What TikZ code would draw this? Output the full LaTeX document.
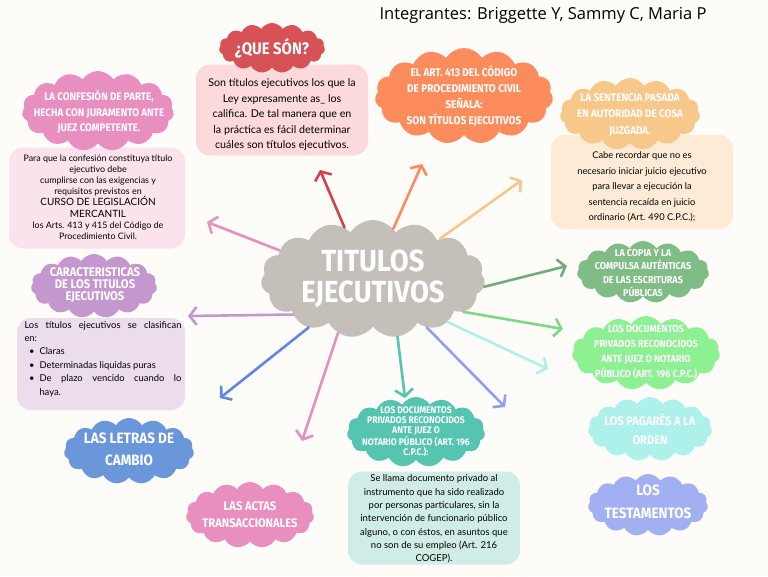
\documentclass[tikz,border=0pt]{standalone}
\usepackage{fontspec}
\setmainfont{Lato}
\newfontfamily\headfont[FakeStretch=0.9]{Fira Sans}
\newfontfamily\topfont{Open Sans}
\usetikzlibrary{shapes.symbols,arrows.meta}

\definecolor{bgc}{HTML}{FDFCF9}
\definecolor{grisc}{HTML}{C5BFBA}
\definecolor{rojoc}{HTML}{D65257}
\definecolor{rojoa}{HTML}{D0434A}
\definecolor{naranjac}{HTML}{FC8C5C}
\definecolor{durazc}{HTML}{F8C88A}
\definecolor{rosac}{HTML}{E88FC0}
\definecolor{moradoc}{HTML}{C498CF}
\definecolor{azulc}{HTML}{6A96DA}
\definecolor{tealc}{HTML}{55C4B1}
\definecolor{verdec}{HTML}{80BD86}
\definecolor{verdelc}{HTML}{8DF093}
\definecolor{cianc}{HTML}{ADF1EA}
\definecolor{peric}{HTML}{A2B0F1}
\definecolor{rosab}{HTML}{FCDADC}
\definecolor{durazb}{HTML}{FDEBD6}
\definecolor{rosalb}{HTML}{FBE3EE}
\definecolor{moradob}{HTML}{EBDDEC}
\definecolor{tealb}{HTML}{CFEDE6}

\newcommand{\fs}[2]{\fontsize{#1}{#2}\selectfont}

\begin{document}
\begin{tikzpicture}[x=1pt,y=-1pt,
  cloudy/.style={cloud, cloud puffs=15, cloud puff arc=115, cloud ignores aspect, inner sep=0pt},
  head/.style={text=white, align=center, font=\headfont\bfseries},
  textbox/.style={rounded corners=14pt, align=center, inner sep=0pt},
  arr/.style={line width=2.6pt, line cap=round, -{Straight Barb[length=7pt,width=18pt]}}]

\fill[bgc] (0,0) rectangle (768,576);
\useasboundingbox (0,0) rectangle (768,576);

\node[anchor=west, font=\topfont\fs{16.5}{18}] (integ) at (376,15) {Integrantes: Briggette Y, Sammy C, Maria P};

% cajas de texto
\node[textbox, fill=rosab, minimum width=172pt, minimum height=91pt] (queb) at (282,110) {};
\node[align=center, font=\fs{10.7}{15.5}] (quet) at (282,115) {Son títulos ejecutivos los que la\\Ley expresamente as\_ los\\califica. De tal manera que en\\la práctica es fácil determinar\\cuáles son títulos ejecutivos.};

\node[textbox, fill=durazb, minimum width=182pt, minimum height=94pt] (sentb) at (642,182) {};
\node[align=center, font=\fs{9.3}{15.5}] (sentt) at (642,187) {Cabe recordar que no es\\necesario iniciar juicio ejecutivo\\para llevar a ejecución la\\sentencia recaída en juicio\\ordinario (Art. 490 C.P.C.);};

\node[textbox, fill=rosalb, minimum width=176pt, minimum height=101pt] (confb) at (97,198) {};
\node[align=center, font=\fs{8.9}{11.2}] (conft) at (98,197) {Para que la confesión constituya título\\ejecutivo debe\\cumplirse con las exigencias y\\requisitos previstos en\\{\fs{10}{12}CURSO DE LEGISLACIÓN}\\{\fs{10}{12}MERCANTIL}\\los Arts. 413 y 415 del Código de\\Procedimiento Civil.};

\node[textbox, fill=moradob, minimum width=168pt, minimum height=92pt] (carb) at (101,364) {};
\node[text width=157pt, align=justify, inner sep=0pt, font=\fs{9.4}{13.4}] (cart) at (103,359) {Los títulos ejecutivos se clasifican\linebreak en:
\begin{list}{\textbullet}{\setlength{\leftmargin}{15pt}\setlength{\labelsep}{5pt}\setlength{\itemsep}{0pt}\setlength{\parsep}{0pt}\setlength{\topsep}{0pt}}
\item Claras
\item Determinadas liquidas puras
\item De plazo vencido cuando lo\linebreak haya.
\end{list}};

\node[textbox, fill=tealb, minimum width=172pt, minimum height=93pt] (docb) at (434,518) {};
\node[align=center, font=\fs{9.5}{13.3}] (doct) at (434,519) {Se llama documento privado al\\instrumento que ha sido realizado\\por personas particulares, sin la\\intervención de funcionario público\\alguno, o con éstos, en asuntos que\\no son de su empleo (Art. 216\\COGEP).};

% nube central y flechas
\node[cloudy, fill=grisc, minimum width=224pt, minimum height=118pt] (ctr) at (373,279) {};
\node[head, font=\headfont\bfseries\fs{30.5}{31}] (ctrt) at (373,279) {TITULOS\\EJECUTIVOS};

\coordinate (t1) at (320,170);
\coordinate (t2) at (422,164);
\coordinate (t3) at (522,180);
\coordinate (t4) at (567,266);
\coordinate (t5) at (563,329);
\coordinate (t6) at (548,369);
\coordinate (t7) at (505,407);
\coordinate (t8) at (405,398);
\coordinate (t9) at (302,441);
\coordinate (t10) at (220,398);
\coordinate (t11) at (188,316);
\coordinate (t12) at (207,222);

\draw[arr, rojoa] (ctr.119) -- (t1);
\draw[arr, naranjac] (ctr.68) -- (t2);
\draw[arr, durazc] (ctr.31) -- (t3);
\draw[arr, verdec!90!black] (ctr.356) -- (t4);
\draw[arr, verdelc!90!black] (ctr.340) -- (t5);
\draw[arr, cianc] (ctr.330) -- (t6);
\draw[arr, peric!90!blue] (ctr.318) -- (t7);
\draw[arr, tealc] (ctr.293) -- (t8);
\draw[arr, rosac] (ctr.237) -- (t9);
\draw[arr, azulc!90!blue] (ctr.217) -- (t10);
\draw[arr, moradoc] (ctr.204) -- (t11);
\draw[arr, rosac] (ctr.163) -- (t12);

% nubes
\node[cloudy, fill=rojoc, minimum width=106pt, minimum height=50pt] (que) at (272,48) {};
\node[head, font=\headfont\bfseries\fs{16.6}{19}] (quen) at (272,48) {¿QUE SÓN?};

\node[cloudy, fill=naranjac, minimum width=178pt, minimum height=96pt] (art) at (464,96) {};
\node[head, font=\headfont\bfseries\fs{11.2}{15.8}] (artn) at (464,96) {EL ART. 413 DEL CÓDIGO\\DE PROCEDIMIENTO CIVIL\\SEÑALA:\\SON TÍTULOS EJECUTIVOS};

\node[cloudy, fill=durazc, minimum width=140pt, minimum height=72pt] (sent) at (630,114) {};
\node[head, font=\headfont\bfseries\fs{11}{16.5}] (sentn) at (630,115) {LA SENTENCIA PASADA\\EN AUTORIDAD DE COSA\\JUZGADA.};

\node[cloudy, fill=rosac, minimum width=152pt, minimum height=80pt] (conf) at (98,111) {};
\node[head, font=\headfont\bfseries\fs{10.9}{15.5}] (confn) at (99,112) {LA CONFESIÓN DE PARTE,\\HECHA CON JURAMENTO ANTE\\JUEZ COMPETENTE.};

\node[cloudy, fill=moradoc, minimum width=126pt, minimum height=64pt] (car) at (94,286) {};
\node[head, font=\headfont\bfseries\fs{12.5}{12}] (carn) at (95,285) {CARACTERISTICAS\\DE LOS TITULOS\\EJECUTIVOS};

\node[cloudy, fill=azulc, minimum width=130pt, minimum height=66pt] (letr) at (129,451) {};
\node[head, font=\headfont\bfseries\fs{15}{22}] (letrn) at (129,449) {LAS LETRAS DE\\CAMBIO};

\node[cloudy, fill=rosac, minimum width=128pt, minimum height=66pt] (actas) at (250,515) {};
\node[head, font=\headfont\bfseries\fs{12.4}{17}] (actasn) at (250,515) {LAS ACTAS\\TRANSACCIONALES};

\node[cloudy, fill=tealc, minimum width=138pt, minimum height=70pt] (doc) at (416,432) {};
\node[head, font=\headfont\bfseries\fs{9.6}{10}] (docn) at (416,432) {LOS DOCUMENTOS\\PRIVADOS RECONOCIDOS\\ANTE JUEZ O\\NOTARIO PÚBLICO (ART. 196\\C.P.C.):};

\node[cloudy, fill=verdec, minimum width=132pt, minimum height=62pt] (copia) at (643,272) {};
\node[head, font=\headfont\bfseries\fs{10}{13.4}] (copian) at (643,273) {LA COPIA Y LA\\COMPULSA AUTÉNTICAS\\DE LAS ESCRITURAS\\PÚBLICAS};

\node[cloudy, fill=verdelc, minimum width=148pt, minimum height=74pt] (priv) at (646,353) {};
\node[head, font=\headfont\bfseries\fs{10.2}{15}] (privn) at (646,352) {LOS DOCUMENTOS\\PRIVADOS RECONOCIDOS\\ANTE JUEZ O NOTARIO\\PÚBLICO (ART. 196 C.P.C.)};

\node[cloudy, fill=cianc, minimum width=124pt, minimum height=64pt] (pag) at (650,429) {};
\node[head, font=\headfont\bfseries\fs{12.3}{19}] (pagn) at (650,429) {LOS PAGARÉS A LA\\ORDEN};

\node[cloudy, fill=peric, minimum width=120pt, minimum height=62pt] (test) at (648,505) {};
\node[head, font=\headfont\bfseries\fs{15}{23}] (testn) at (648,502) {LOS\\TESTAMENTOS};

\end{tikzpicture}
\end{document}
